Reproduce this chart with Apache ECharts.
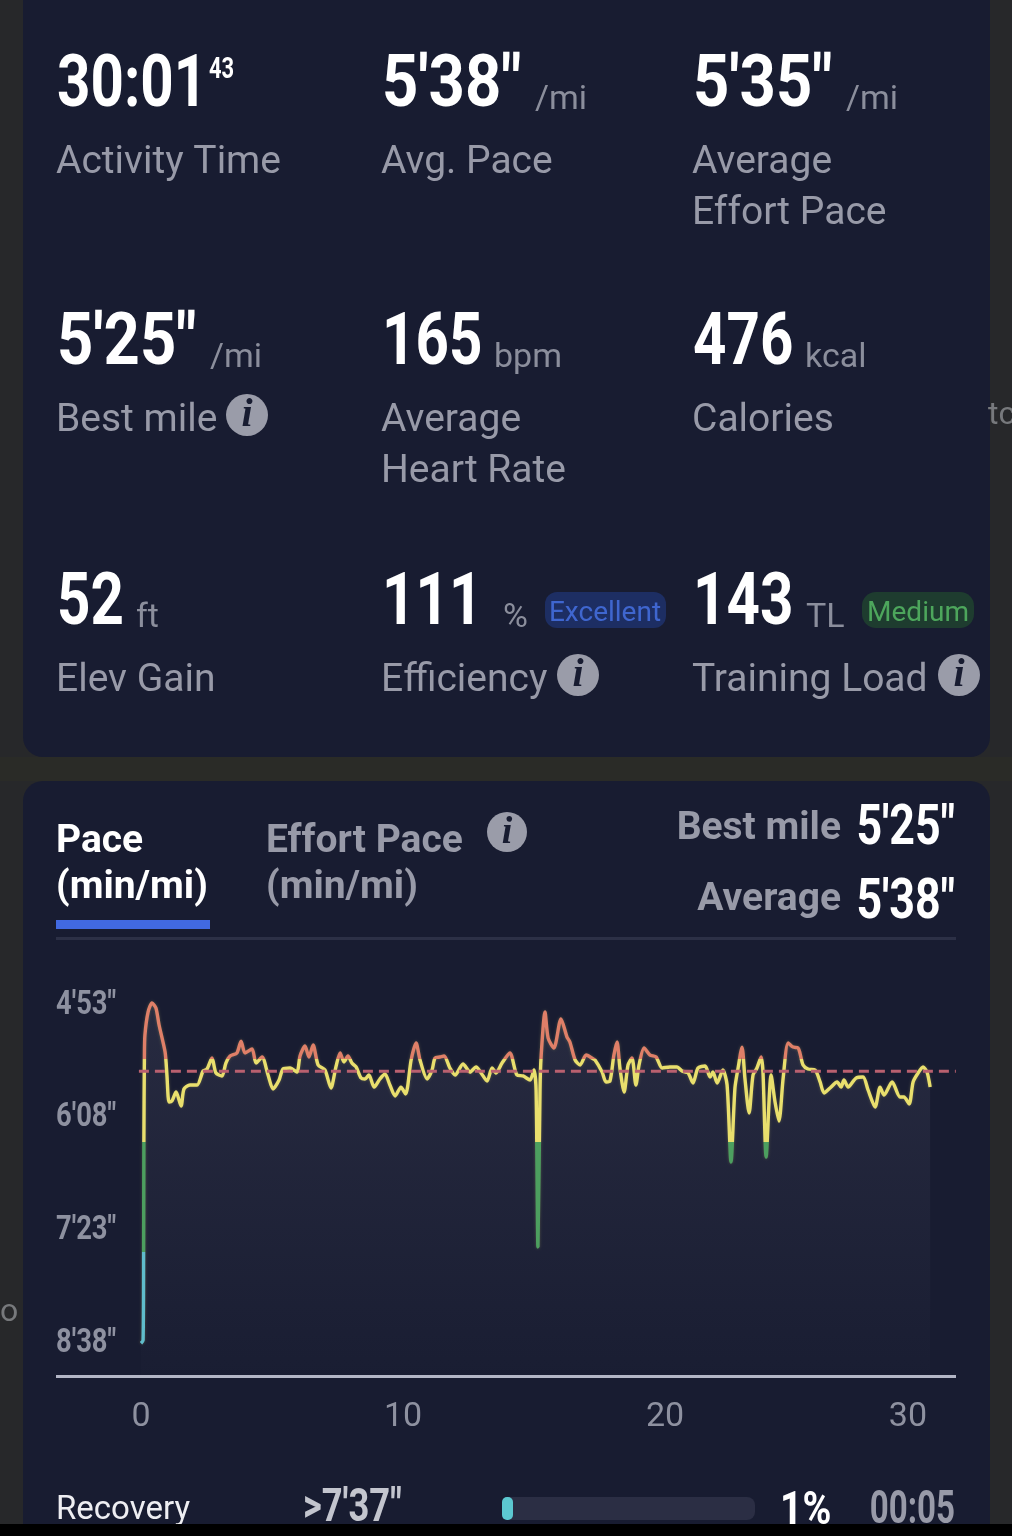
<!DOCTYPE html>
<html>
<head>
<meta charset="utf-8">
<title>Activity summary</title>
<script src="https://cdn.jsdelivr.net/npm/echarts@6/dist/echarts.min.js"></script>
<style>
html, body { margin: 0; padding: 0; background: #27282a; }
#chart1 { width: 1012px; height: 1536px; }
</style>
</head>
<body>
<div id="chart1"></div>
<script>
// minutes into the activity
var minutes = [0,.08,.10,.11,.13,.15,.27,.42,.57,.69,.92,.99,1.07,1.18,1.34,1.53,1.64,1.87,2.14,2.37,2.52,2.71,2.86,3.09,3.24,3.40,3.66,3.82,3.97,4.24,4.39,4.62,4.85,5.04,
    5.27,5.42,5.69,5.95,6.07,6.26,6.41,6.57,6.76,7.02,7.25,7.44,7.60,7.75,7.90,8.05,8.21,8.40,8.55,8.70,8.90,9.12,9.31,9.50,9.70,9.92,10.10,
    10.31,10.50,10.65,10.92,11.11,11.22,11.41,11.57,11.79,11.99,12.29,12.56,12.79,12.98,13.21,13.40,13.55,13.78,14.08,14.35,14.58,14.85,15.00,15.08,15.15,15.23,15.27,15.42,15.54,15.76,
    16.03,16.26,16.37,16.57,16.76,16.99,17.21,17.33,17.60,17.75,17.90,18.05,18.17,18.28,18.44,18.59,18.74,18.89,19.01,19.20,19.43,19.66,19.89,20.19,20.46,20.65,20.88,
    21.07,21.26,21.53,21.72,21.83,21.99,22.21,22.37,22.52,22.67,22.79,22.94,23.05,23.21,23.36,23.51,23.67,23.74,23.86,24.05,24.20,24.35,24.51,24.70,24.89,25.08,25.15,25.27,25.46,25.73,25.92,
    26.07,26.30,26.57,26.72,26.83,26.99,27.29,27.56,27.75,28.02,28.21,28.36,28.67,28.97,29.12,29.32,29.47,29.66,29.85,30.00,30.12];
// pace in seconds per mile
var pace = [519,517,457,383.8,328.6,314,298.7,292.7,296,307.3,325.3,340.6,358.5,357.9,351.9,361.2,349.9,347.2,347.2,337.9,336.6,329.3,339.2,341.2,332.6,327.9,325.9,318,325.9,323.3,332.6,328.6,340.6,349.9,
    343.9,336.6,335.9,338.6,327.9,321.3,328.6,320.6,333.9,337.2,349.2,335.2,325.9,331.9,327.9,332.6,335.2,342.6,343.2,340.6,348.6,343.2,339.9,347.2,354.5,348.6,353.2,
    330.6,319.3,330.6,343.2,337.2,329.3,328.6,327.9,335.9,340.6,333.2,338.6,335.2,339.2,344.6,335.9,339.2,332.6,325.9,340.6,341.2,343.9,337.2,350.5,455,350.5,328.6,298.7,316,322.6,
    303.3,315.3,318.6,330.6,333.9,327.3,329.3,330.6,338.6,345.2,344.6,327.3,318.6,335.9,351.9,333.9,329.3,347.2,333.9,322.6,327.3,328.6,335.9,335.2,335.2,337.9,339.2,
    345.9,335.9,334.6,341.9,338.6,345.9,337.2,347.2,398.4,349.2,335.9,322,342.6,365.9,340.6,335.9,328.6,338.6,395.1,340.6,358.5,371.2,342.6,319.3,322,322.6,325.9,333.9,336.6,337.2,345.2,
    352.5,349.2,345.2,348.6,343.9,348.6,342.6,341.9,350.5,361.9,348.6,353.9,345.2,355.2,355.2,359.9,345.2,339.2,335.2,338.6,348.6];
var avgPace = 338;
var paceTicks = [293, 368, 443, 518];
var minuteTicks = [0, 10, 20, 30];

var statColumns = [56, 381, 692];
var statRows = [81, 339, 599];
var statValues = ['30:01', '5\'38"', '5\'35"', '5\'25"', '165', '476', '52', '111', '143'];
var statUnits = ['', '/mi', '/mi', '/mi', 'bpm', 'kcal', 'ft', '%', 'TL'];
var statUnitX = [0, 535, 846, 210, 494, 805, 136, 503, 806];
var statLabels = [['Activity Time'], ['Avg. Pace'], ['Average', 'Effort Pace'], ['Best mile'], ['Average', 'Heart Rate'], ['Calories'], ['Elev Gain'], ['Efficiency'], ['Training Load']];

var GREY = '#989aa8';
var CARD = '#181c31';

// y is the visual centre of the text, sx squeezes it to look like the app's condensed digits
function txt(x, y, text, size, weight, fill, align, sx) {
    return {
        type: 'text', z: 5, x: x, y: y + size * 0.1, scaleX: sx || 1,
        style: {
            x: 0, y: 0, text: text, fill: fill, textAlign: align || 'left', textVerticalAlign: 'middle',
            font: weight + ' ' + size + 'px Roboto, sans-serif'
        }
    };
}
function box(x, y, w, h, r, fill) {
    return { type: 'rect', z: 1, shape: { x: x, y: y, width: w, height: h, r: r }, style: { fill: fill } };
}
function info(x, y, r) {
    return [
        { type: 'circle', z: 4, shape: { cx: x, cy: y, r: r }, style: { fill: '#9a9ca9' } },
        {
            type: 'text', z: 5, x: x, y: y + 1,
            style: {
                x: 0, y: 0, text: 'i', fill: CARD, textAlign: 'center', textVerticalAlign: 'middle',
                font: 'italic bold ' + Math.round(r * 1.9) + 'px "Liberation Serif", serif'
            }
        }
    ];
}

var g = [
    box(0, 757, 1012, 24, 0, '#2a2b27'),
    box(23, -40, 967, 797, 20, CARD),
    box(23, 781, 967, 800, 20, CARD),
    txt(988, 413, 'tc', 32, 'normal', '#77797c'),
    txt(0, 1310, 'o', 32, 'normal', '#77797c')
];

// stat tiles
for (var i = 0; i < statValues.length; i++) {
    var cx = statColumns[i % 3], cy = statRows[Math.floor(i / 3)];
    g.push(txt(cx + 1, cy, statValues[i], 72, 'bold', '#ffffff', 'left', statValues[i].indexOf("'") >= 0 ? 0.88 : 0.81));
    if (statUnits[i]) g.push(txt(statUnitX[i], cy + 16, statUnits[i], 34, 'normal', '#8b8e9c'));
    statLabels[i].forEach(function (s, k) {
        g.push(txt(cx, cy + 78.5 + k * 51, s, 39, 'normal', GREY));
    });
}
g.push(txt(209, 67, '43', 30, 'bold', '#ffffff', 'left', 0.73));
g = g.concat(info(247, 415, 21), info(578, 675, 21), info(959, 675, 21), info(507, 832, 20));

g.push(box(545, 592, 121, 36, 12, '#1d2e63'));
g.push(txt(605, 611, 'Excellent', 28, 'normal', '#3f66cf', 'center'));
g.push(box(862, 592, 112, 36, 14, '#1e3c2f'));
g.push(txt(918, 611, 'Medium', 28, 'normal', '#4da65c', 'center'));

// pace panel header
g.push(txt(56, 838, 'Pace', 39, 'bold', '#ffffff'));
g.push(txt(56, 884, '(min/mi)', 39, 'bold', '#ffffff'));
g.push(txt(266, 838, 'Effort Pace', 39, 'bold', GREY));
g.push(txt(266, 884, '(min/mi)', 39, 'bold', GREY));
g.push(box(56, 920, 154, 9, 0, '#4169e1'));
g.push(box(56, 937, 900, 3, 0, '#2c3046'));
g.push(txt(841, 825, 'Best mile', 39, 'bold', GREY, 'right'));
g.push(txt(955, 824, '5\'25"', 56, 'bold', '#ffffff', 'right', 0.8));
g.push(txt(841, 896, 'Average', 39, 'bold', GREY, 'right'));
g.push(txt(955, 898, '5\'38"', 56, 'bold', '#ffffff', 'right', 0.8));

// recovery row, cut off by the black bar
g.push(txt(56, 1507, 'Recovery', 33, 'normal', '#eeeef2'));
g.push(txt(303, 1505, '>7\'37"', 46, 'bold', '#c3c5ce', 'left', 0.79));
g.push(box(502, 1497, 253, 23, 8, '#2b2e44'));
g.push(box(502, 1497, 11, 23, 5, '#5cc8d0'));
g.push(txt(780, 1508, '1%', 46, 'bold', '#ffffff', 'left', 0.85));
g.push(txt(955, 1507, '00:05', 46, 'bold', GREY, 'right', 0.72));
g.push({ type: 'rect', z: 50, shape: { x: 0, y: 1524, width: 1012, height: 12 }, style: { fill: '#000000' } });

var myChart = echarts.init(document.getElementById('chart1'));

var option = {
    animation: false,
    backgroundColor: '#27282a',
    graphic: { elements: g },
    grid: { left: 56, top: 960, width: 900, height: 416 },
    xAxis: {
        type: 'value',
        z: 6,
        min: -3.244,
        max: 31.107,
        splitLine: { show: false },
        axisTick: { show: false },
        axisLine: { lineStyle: { color: '#b3b6c6', width: 3, cap: 'butt' } },
        axisLabel: {
            customValues: minuteTicks,
            alignMaxLabel: 'right',
            margin: 24,
            color: '#8e91a0',
            fontFamily: 'Roboto',
            fontSize: 34
        }
    },
    yAxis: {
        type: 'value',
        z: 6,
        inverse: true,
        min: 264.06,
        max: 540.8,
        splitLine: { show: false },
        axisTick: { show: false },
        axisLine: { show: false },
        axisLabel: { show: false }
    },
    visualMap: {
        show: false,
        type: 'piecewise',
        seriesIndex: 0,
        dimension: 1,
        pieces: [
            { lte: 329.6, color: '#df7f68' },
            { gt: 329.6, lte: 385, color: '#e9df6d' },
            { gt: 385, lte: 458, color: '#4c9f5f' },
            { gt: 458, color: '#5fbccb' }
        ]
    },
    series: [{
        type: 'line',
        z: 3,
        smooth: 0.25,
        symbol: 'none',
        lineStyle: { width: 3.4, shadowBlur: 3, shadowColor: 'rgba(233,223,109,0.25)' },
        areaStyle: {
            origin: 'end',
            color: {
                type: 'linear', x: 0, y: 0, x2: 0, y2: 1,
                colorStops: [{ offset: 0, color: '#2e3147' }, { offset: 1, color: '#1a1e33' }]
            }
        },
        data: minutes.map(function (m, i) { return [m, pace[i]]; })
    }, {
        type: 'line',
        z: 4,
        symbol: 'none',
        lineStyle: { color: '#b9606f', width: 3, type: [10, 6] },
        data: [[-0.08, avgPace], [31.1, avgPace]]
    }]
};
myChart.setOption(option);

// pace tick labels need the squeezed digits, so they are placed through the axis scale
paceTicks.forEach(function (v) {
    var s = v % 60;
    var label = Math.floor(v / 60) + "'" + (s < 10 ? '0' : '') + s + '"';
    g.push(txt(56, myChart.convertToPixel({ yAxisIndex: 0 }, v) - 1.5, label, 33, 'bold', '#8e91a0', 'left', 0.83));
});
myChart.setOption({ graphic: { elements: g } });
window.onresize = myChart.resize;
</script>
</body>
</html>
